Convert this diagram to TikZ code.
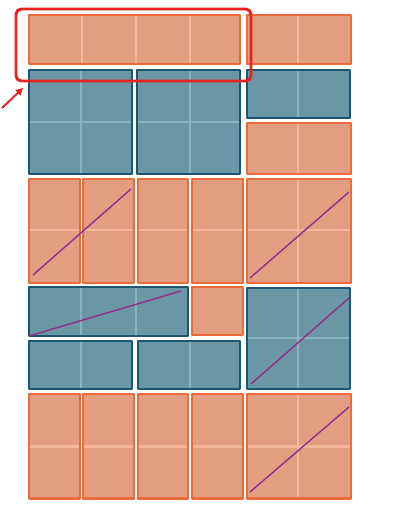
\documentclass[tikz,border=0pt]{standalone}
\usetikzlibrary{arrows.meta}

\definecolor{ofill}{HTML}{E39E82}
\definecolor{oedge}{HTML}{EC6B3A}
\definecolor{oinner}{HTML}{F6B69B}
\definecolor{bfill}{HTML}{6A96A5}
\definecolor{bedge}{HTML}{1C5670}
\definecolor{binner}{HTML}{88B2C0}
\definecolor{diag}{HTML}{8E338C}
\definecolor{hired}{HTML}{E8231F}

\newcommand{\tile}[7]{%
  \fill[#1fill] (#2,#3) rectangle (#4,#5);
  \foreach \vx in {#6} {\draw[#1inner, line width=1.7pt] (\vx,#3) -- (\vx,#5);}
  \foreach \hy in {#7} {\draw[#1inner, line width=1.7pt] (#2,\hy) -- (#4,\hy);}
  \draw[#1edge, line width=\csname #1w\endcsname] (#2,#3) rectangle (#4,#5);}
\def\ow{1.7pt}
\def\bw{1.0pt}

\begin{document}
\begin{tikzpicture}[x=0.02cm, y=-0.02cm, line join=round,
  slash/.style={draw=diag, line width=0.8pt},
  hilite/.style={draw=hired, line width=1.7pt, rounded corners=3pt}]
\useasboundingbox (0,0) rectangle (400,508);

\tile{o}{29}{15}{240}{64}{82,136,190}{}
\tile{o}{247}{15}{351}{64}{298}{}

\tile{b}{29}{70}{132}{174}{81}{122}
\tile{b}{137}{70}{240}{174}{190}{122}
\tile{b}{247}{70}{350}{118}{298}{}
\tile{o}{247}{123}{351}{174}{298}{}

\tile{o}{29}{179}{80}{283}{}{230}
\tile{o}{83}{179}{134}{283}{}{230}
\tile{o}{138}{179}{188}{283}{}{230}
\tile{o}{192}{179}{243}{283}{}{230}
\tile{o}{247}{179}{351}{283}{298}{230}

\tile{b}{29}{287}{188}{336}{81,136}{}
\tile{o}{192}{287}{243}{335}{}{}
\tile{b}{29}{341}{132}{389}{81}{}
\tile{b}{138}{341}{240}{389}{190}{}
\tile{b}{247}{288}{350}{389}{298}{338}

\tile{o}{29}{394}{80}{498}{}{446}
\tile{o}{83}{394}{134}{498}{}{446}
\tile{o}{138}{394}{188}{498}{}{446}
\tile{o}{192}{394}{243}{498}{}{446}
\tile{o}{247}{394}{351}{498}{298}{446}

\draw[slash] (33,275) -- (131,189);
\draw[slash] (250,278) -- (349,192);
\draw[slash] (29,336) -- (181,291);
\draw[slash] (251,384) -- (349,298);
\draw[slash] (250,492) -- (349,407);

\draw[hilite] (16,9) rectangle (251,81);
\coordinate (tail) at (2,108);
\coordinate (head) at (23,88);
\draw[hired, line width=1.1pt, -{Triangle[length=4pt,width=4pt]}] (tail) -- (head);
\end{tikzpicture}
\end{document}
